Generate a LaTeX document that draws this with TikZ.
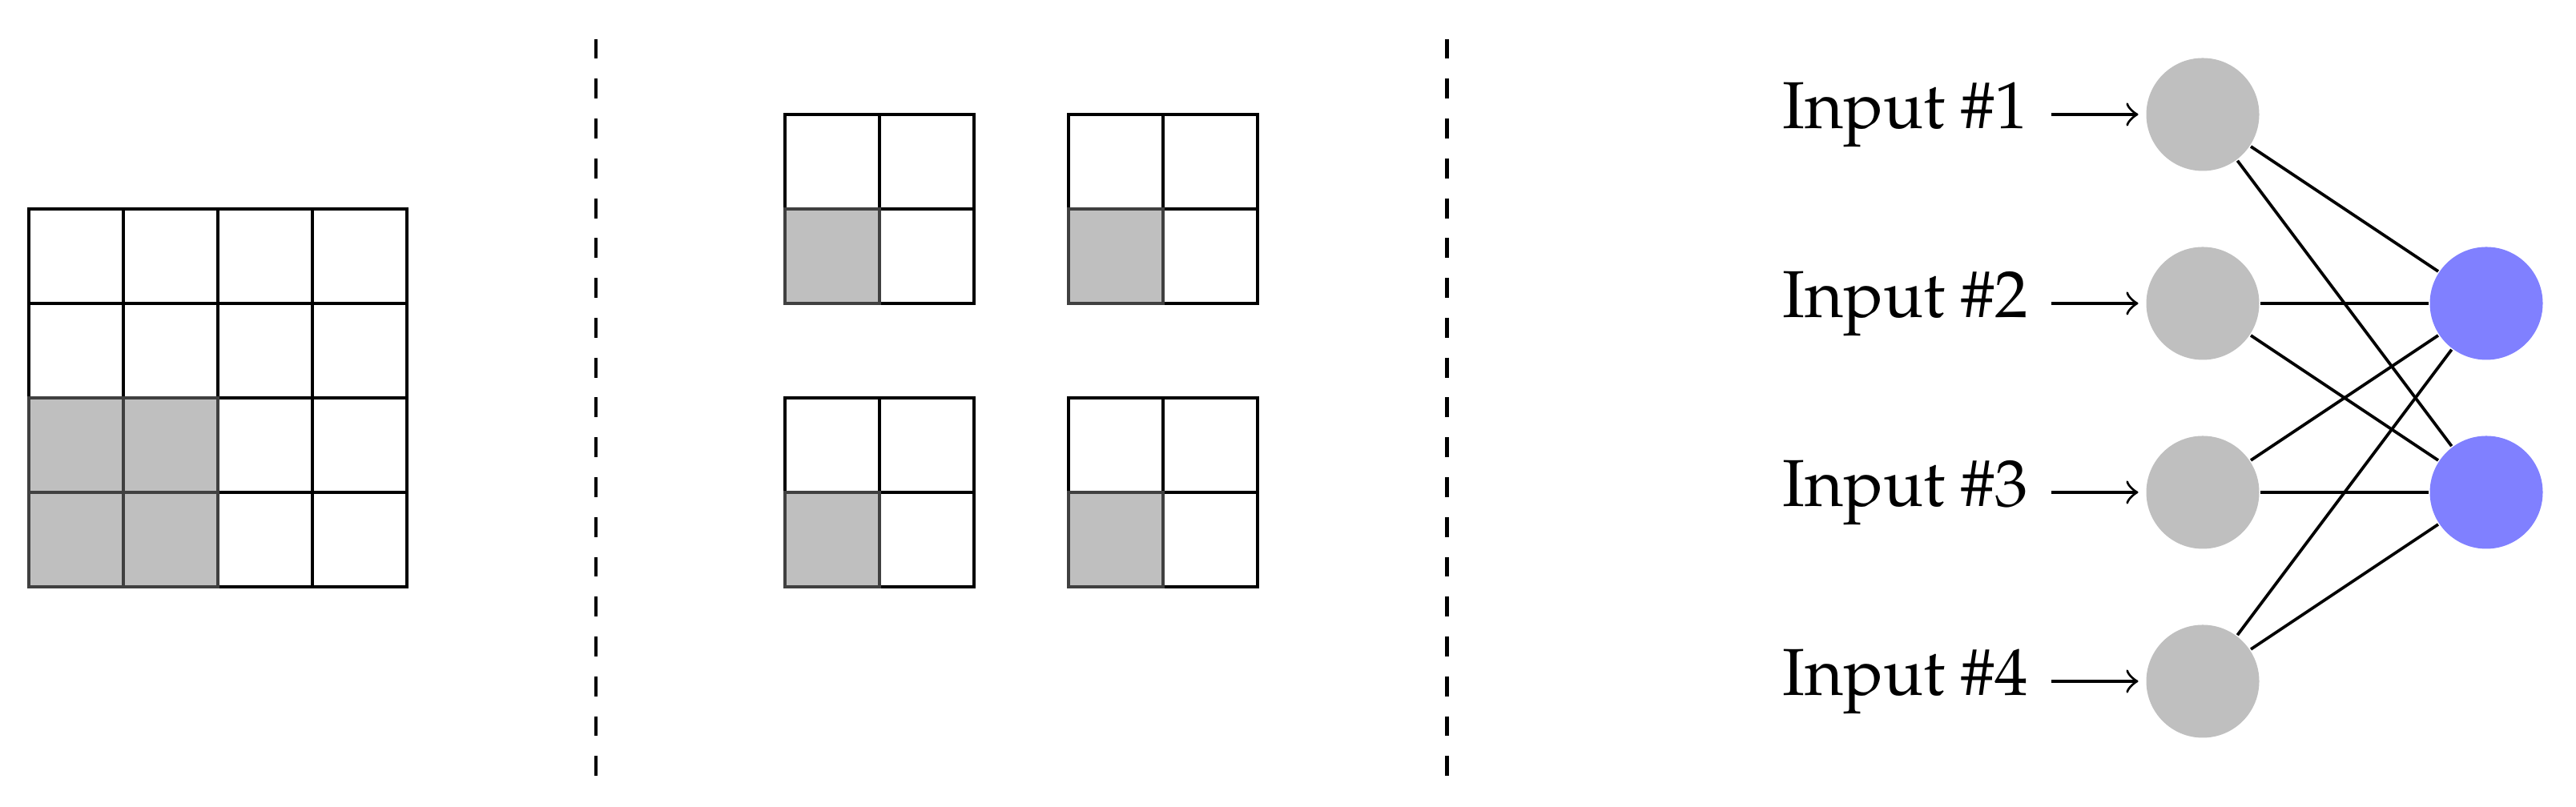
\documentclass[tikz,border=0pt]{standalone}
\usepackage[T1]{fontenc}
\usepackage{mathpazo}
\begin{document}
\begin{tikzpicture}[
  neuron/.style={circle, minimum size=17pt, inner sep=0pt},
  inneuron/.style={neuron, fill=black!25},
  outneuron/.style={neuron, fill=blue!50},
  every pin edge/.style={<-, shorten <=1pt},
  cellshade/.style={fill=black!25, draw=black!75},
  sepline/.style={dashed, semithick},
  conn/.style={draw=black, line width=0.45pt}
]
\useasboundingbox (-0.1525,0.6059) rectangle (13.4746,-3.6653);

% left 4x4 grid
\foreach \x in {0,0.5,1,1.5} \foreach \y in {-1,-1.5,-2,-2.5}
  \draw (\x,\y) rectangle ++(0.5,0.5);
\foreach \x in {0,0.5} \foreach \y in {-2.5,-2}
  \draw[cellshade] (\x,\y) rectangle ++(0.5,0.5);

% separators
\coordinate (s1a) at (3,0.4); \coordinate (s1b) at (3,-3.6);
\coordinate (s2a) at (7.5,0.4); \coordinate (s2b) at (7.5,-3.6);
\draw[sepline] (s1a) -- (s1b);
\draw[sepline] (s2a) -- (s2b);

% four 2x2 grids
\foreach \gx/\gy in {4/-1, 5.5/-1, 4/-2.5, 5.5/-2.5} {
  \foreach \dx in {0,0.5} \foreach \dy in {0,0.5}
    \draw ({\gx+\dx},{\gy+\dy}) rectangle ++(0.5,0.5);
  \draw[cellshade] (\gx,\gy) rectangle ++(0.5,0.5);
}

% network
\foreach \i in {1,...,4}
  \node[inneuron, pin=left:Input \#\i] (I-\i) at (11.5,{1-\i}) {};
\node[outneuron] (O-1) at (13,-1) {};
\node[outneuron] (O-2) at (13,-2) {};
\foreach \i in {1,...,4}
  \foreach \j in {1,2}
    \draw[conn] (I-\i) -- (O-\j);
\end{tikzpicture}
\end{document}
